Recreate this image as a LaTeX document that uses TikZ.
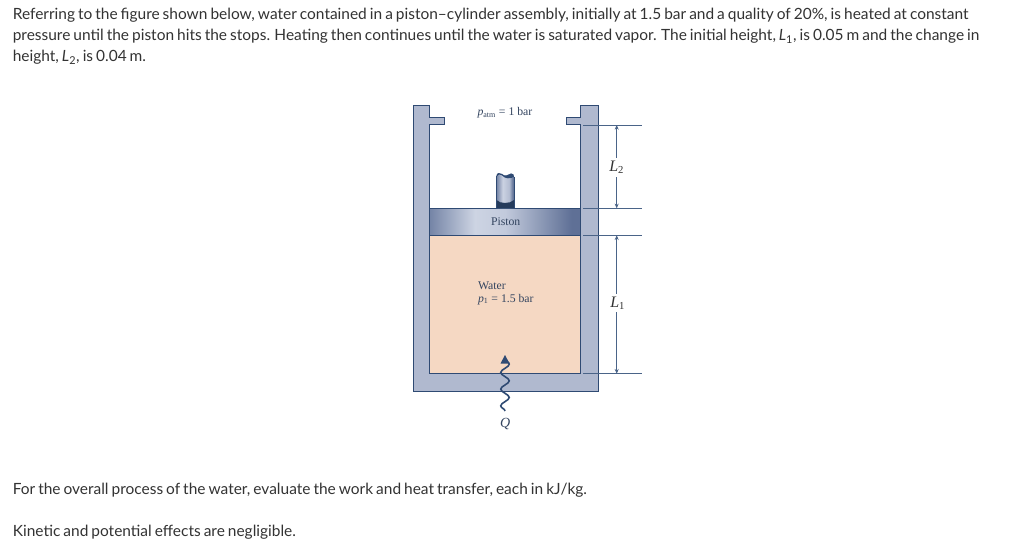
\documentclass[tikz,border=0pt]{standalone}
\usepackage{fontspec}
\setmainfont{Lato}[WordSpace=0.76]
\newfontfamily\figfont{Liberation Serif}
\usetikzlibrary{arrows.meta,decorations.pathmorphing}
\definecolor{wallc}{HTML}{B0B9CF}
\definecolor{edgec}{HTML}{2F4A73}
\definecolor{waterc}{HTML}{F5D8C3}
\definecolor{txtc}{HTML}{333333}
\definecolor{figtxt}{HTML}{33445F}
\definecolor{dimc}{HTML}{4A6488}
\definecolor{shA}{HTML}{5F7096}
\definecolor{shB}{HTML}{7484A6}
\definecolor{shC}{HTML}{CDD4E3}
\definecolor{shD}{HTML}{C2CADC}
\definecolor{rdA}{HTML}{7D8CAB}
\definecolor{rdB}{HTML}{CBD2E2}
\definecolor{rdC}{HTML}{B4BDD2}
\definecolor{rdD}{HTML}{55688F}
\pgfdeclarehorizontalshading{pistonshade}{100bp}{
 color(0bp)=(shB); color(25bp)=(shB);
 color(40bp)=(shC);
 color(50bp)=(shD);
 color(72bp)=(shA);
 color(100bp)=(shA)}
\pgfdeclarehorizontalshading{rodshade}{100bp}{
 color(0bp)=(rdA); color(25bp)=(rdA);
 color(42bp)=(rdB);
 color(62bp)=(rdC);
 color(75bp)=(rdD);
 color(100bp)=(rdD)}
\tikzset{
 x=0.75pt,y=-0.75pt,
 para/.style={anchor=base west,inner sep=0pt,outer sep=0pt,text=txtc,font=\fontsize{11.6pt}{13pt}\selectfont},
 figlabel/.style={anchor=base west,inner sep=0pt,outer sep=0pt,text=figtxt,font=\figfont\fontsize{8.8pt}{9pt}\selectfont},
 dimlabel/.style={inner sep=0pt,outer sep=0pt,text=black!80,font=\figfont\fontsize{12pt}{12pt}\selectfont},
 wall/.style={fill=wallc,draw=edgec,line width=0.75pt,line join=miter},
 extline/.style={draw=dimc,line width=0.7pt},
 dimline/.style={draw=dimc,line width=0.7pt,{Stealth[length=3.5pt,width=3pt]}-{Stealth[length=3.5pt,width=3pt]}},
 heatline/.style={draw=edgec,line width=1.2pt,decorate,decoration={snake,amplitude=3.2pt,segment length=12.5pt,pre length=0pt,post length=0pt}}
}
\begin{document}
\begin{tikzpicture}
\useasboundingbox (0,0) rectangle (1024,556);
\fill[white] (0,0) rectangle (1024,556);
% cylinder
\draw[wall] (413.5,105.7) -- (429.5,105.7) -- (429.5,117.7) -- (444.3,117.7) -- (444.3,125) -- (429.5,125) -- (429.5,373.7) -- (580.5,373.7) -- (580.5,125) -- (566,125) -- (566,117.7) -- (580.5,117.7) -- (580.5,105.7) -- (598,105.7) -- (598,391) -- (413.5,391) -- cycle;
% water
\fill[waterc] (429.9,235.3) rectangle (580.1,373.3);
% piston
\path[shading=pistonshade] (429.5,208.3) rectangle (580.5,235.3);
\draw[edgec,line width=0.75pt] (429.5,208.3) -- (580.5,208.3);
\draw[edgec,line width=0.75pt] (429.5,235.3) -- (580.5,235.3);
\draw[edgec,line width=0.75pt] (429.5,125) -- (429.5,373.7);
\draw[edgec,line width=0.75pt] (580.5,125) -- (580.5,373.7);
% rod
\path[shading=rodshade] (496.5,208) -- (496.5,176) .. controls (497,172.5) and (500,172.5) .. (502,174) .. controls (505,177.5) and (509,174) .. (511,173.5) .. controls (513,173) and (514,175) .. (514,177) -- (514,208) -- cycle;
\fill[edgec] (496.5,208) -- (496.5,175.5) .. controls (497,172.5) and (500,172.5) .. (502,174) .. controls (505,177.5) and (509,174) .. (511,173.5) .. controls (513,173) and (514,175) .. (514,177) .. controls (510,179) and (505,179) .. (502,175.5) .. controls (500,174) and (498,174) .. (497.3,176) -- (497.3,207) -- cycle;
\path[shading=rodshade] (497.2,176.5) .. controls (498,174.5) and (500,174.5) .. (502,176) .. controls (505,179.5) and (510,179.5) .. (513.4,177.5) -- (513.4,204) -- (497.2,204) -- cycle;
\fill[edgec!80!black] (496.5,208) -- (496.5,200) .. controls (500,204) and (510,204) .. (514,200) -- (514,208) -- cycle;
\draw[edgec,line width=0.5pt] (496.5,176) -- (496.5,208) (514,177) -- (514,208);
% dimension coordinates
\coordinate (e1a) at (583,125); \coordinate (e1b) at (641.7,125);
\coordinate (e2a) at (583,208.3); \coordinate (e2b) at (641.7,208.3);
\coordinate (e3a) at (583,235.3); \coordinate (e3b) at (641.7,235.3);
\coordinate (e4a) at (583,373.7); \coordinate (e4b) at (641.7,373.7);
\coordinate (d2t) at (616.7,125); \coordinate (d2b) at (616.7,208.3);
\coordinate (d1t) at (616.7,235.3); \coordinate (d1b) at (616.7,373.7);
\draw[extline] (e1a) -- (e1b);
\draw[extline] (e2a) -- (e2b);
\draw[extline] (e3a) -- (e3b);
\draw[extline] (e4a) -- (e4b);
\draw[dimline] (d2t) -- (d2b);
\draw[dimline] (d1t) -- (d1b);
\node[dimlabel,fill=white,inner xsep=1pt,inner ysep=2pt] (L2) at (616.7,167.5) {\textit{L}\textsubscript{\fontsize{8pt}{8pt}\selectfont 2}};
\node[dimlabel,fill=white,inner xsep=1pt,inner ysep=2pt] (L1) at (617.7,303) {\textit{L}\textsubscript{\fontsize{8pt}{8pt}\selectfont 1}};
% heat
\coordinate (q0) at (505,411);
\coordinate (q1) at (505,358);
\draw[heatline] (q0) -- (q1);
\fill[edgec] (505,355) -- (509.5,363.5) -- (500.5,363.5) -- cycle;
% figure labels
\node[figlabel] (patm) at (477.5,116) {\textit{p}\textsubscript{\fontsize{6pt}{6pt}\selectfont atm} = 1 bar};
\node[figlabel] (pist) at (491,225) {Piston};
\node[figlabel] (wat) at (478,289) {Water};
\node[figlabel] (p1) at (478,302) {\textit{p}\textsubscript{\fontsize{6pt}{6pt}\selectfont 1} = 1.5 bar};
\node[figlabel,font=\figfont\fontsize{10.5pt}{11pt}\selectfont] (q) at (500,427.5) {\textit{Q}};
% text
\node[para] (t1) at (12.8,20) {Referring to the figure shown below, water contained in a piston–cylinder assembly, initially at 1.5 bar and a quality of 20\%, is heated at constant};
\node[para] (t2) at (12.8,41) {pressure until the piston hits the stops. Heating then continues until the water is saturated vapor. The initial height, \textit{L}\textsubscript{1}, is 0.05 m and the change in};
\node[para] (t3) at (12.8,62) {height, \textit{L}\textsubscript{2}, is 0.04 m.};
\node[para] (t4) at (12.8,494) {For the overall process of the water, evaluate the work and heat transfer, each in kJ/kg.};
\node[para] (t5) at (12.8,536) {Kinetic and potential effects are negligible.};
\end{tikzpicture}
\end{document}
